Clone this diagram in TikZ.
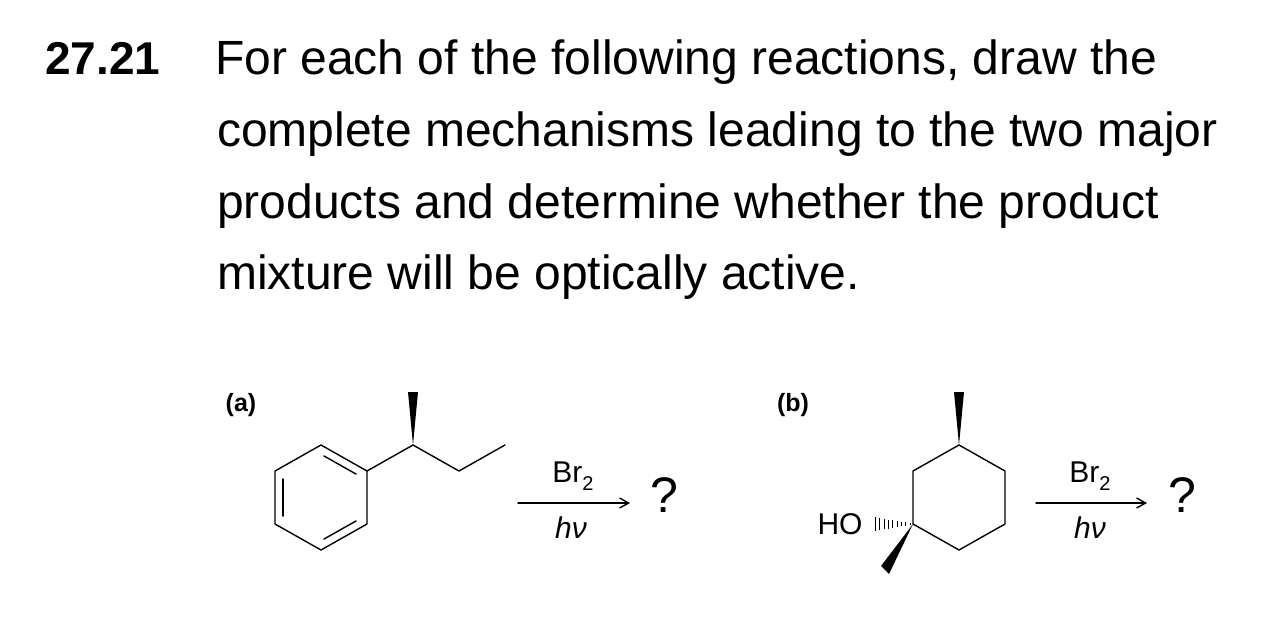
\documentclass[tikz,border=0pt]{standalone}
\usepackage{fontspec}
\setmainfont{Liberation Sans}
\usetikzlibrary{calc,arrows.meta}
\newcommand{\subtwo}{\raisebox{-0.25em}{\fontsize{20}{22}\selectfont 2}}
\begin{document}
\begin{tikzpicture}[x=1pt,y=-1pt,
  bond/.style={line width=1.4pt,line cap=round,line join=round},
  big/.style={font=\fontsize{48}{54}\selectfont,anchor=base west,inner sep=0},
  mid/.style={font=\fontsize{30}{34}\selectfont,inner sep=0},
  lab/.style={font=\bfseries\fontsize{25}{28}\selectfont,inner sep=0}]
\useasboundingbox (0,0) rectangle (1284,622);
\node[big,font=\bfseries\fontsize{46}{50}\selectfont] (num) at (45,74) {27.21};
\node[big] (l1) at (215,74) {For each of the following reactions, draw the};
\node[big] (l2) at (217,146) {complete mechanisms leading to the two major};
\node[big] (l3) at (217,218) {products and determine whether the product};
\node[big] (l4) at (217,289) {mixture will be optically active.};
% (a)
\node[lab] (la) at (241,405) {(a)};
\coordinate (a1) at (321,445); \coordinate (a2) at (367,471);
\coordinate (a3) at (367,524); \coordinate (a4) at (321,550);
\coordinate (a5) at (275,524); \coordinate (a6) at (275,471);
\draw[bond] (a1)--(a2)--(a3)--(a4)--(a5)--(a6)--cycle;
\draw[bond] ($(a1)!0.15!(a2)+(-4,7)$) -- ($(a1)!0.85!(a2)+(-4,7)$);
\draw[bond] ($(a3)!0.15!(a4)+(-4,-7)$) -- ($(a3)!0.85!(a4)+(-4,-7)$);
\draw[bond] ($(a5)!0.15!(a6)+(8,0)$) -- ($(a5)!0.85!(a6)+(8,0)$);
\coordinate (c1) at (413,445); \coordinate (c2) at (459,471); \coordinate (c3) at (505,445);
\coordinate (m1) at (413,392);
\draw[bond] (a2)--(c1)--(c2)--(c3);
\fill (c1) -- ($(m1)+(-5,0)$) -- ($(m1)+(5,0)$) -- cycle;
\coordinate (s1) at (518,503); \coordinate (e1) at (630,503);
\draw[bond,-{Straight Barb[length=9pt,width=10pt]}] (s1) -- (e1);
\node[mid] (br1) at (573,476) {Br\subtwo};
\node[mid,font=\itshape\fontsize{30}{34}\selectfont] (hv1) at (571,528) {hν};
\node[mid,font=\fontsize{50}{54}\selectfont] (q1) at (664,495) {?};
% (b)
\node[lab] (lb) at (793,405) {(b)};
\coordinate (b1) at (959,445); \coordinate (b2) at (1005,471);
\coordinate (b3) at (1005,524); \coordinate (b4) at (959,550);
\coordinate (b5) at (913,524); \coordinate (b6) at (913,471);
\draw[bond] (b1)--(b2)--(b3)--(b4)--(b5)--(b6)--cycle;
\coordinate (m2) at (959,392); \coordinate (m3) at (885,570);
\fill (b1) -- ($(m2)+(-5,0)$) -- ($(m2)+(5,0)$) -- cycle;
\fill (b5) -- ($(m3)+(-4,-4)$) -- ($(m3)+(4,4)$) -- cycle;
\foreach \i in {0,...,8} {
  \pgfmathsetmacro{\xx}{910-\i*4.3}
  \pgfmathsetmacro{\hh}{1+\i*0.7}
  \draw[line width=1pt] (\xx,524-\hh) -- (\xx,524+\hh);
}
\node[mid] (ho) at (840,524) {HO};
\coordinate (s2) at (1036,503); \coordinate (e2) at (1147,503);
\draw[bond,-{Straight Barb[length=9pt,width=10pt]}] (s2) -- (e2);
\node[mid] (br2) at (1090,476) {Br\subtwo};
\node[mid,font=\itshape\fontsize{30}{34}\selectfont] (hv2) at (1090,528) {hν};
\node[mid,font=\fontsize{50}{54}\selectfont] (q2) at (1182,495) {?};
\end{tikzpicture}
\end{document}
